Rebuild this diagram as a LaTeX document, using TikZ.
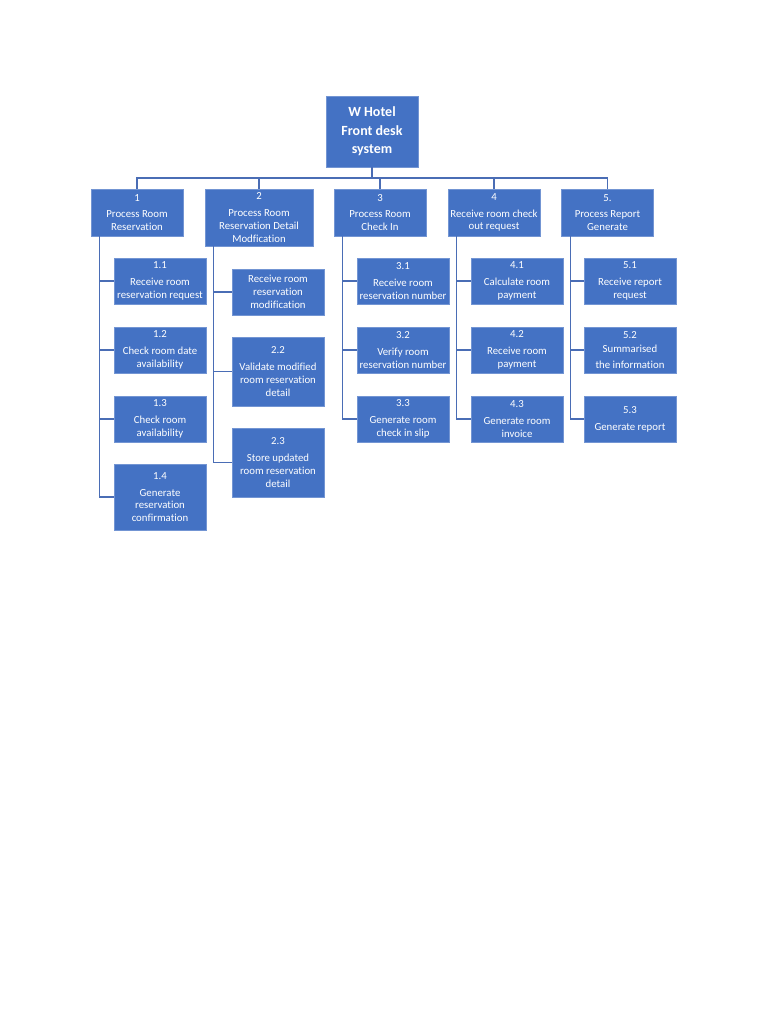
\documentclass[tikz,border=0pt]{standalone}
\usepackage{fontspec}
\setmainfont{Carlito}[Ligatures=NoCommon]
\usetikzlibrary{arrows.meta}
\definecolor{boxblue}{HTML}{4472C4}
\definecolor{linkblue}{HTML}{4A6DB5}
\tikzset{
  task/.style={fill=boxblue, draw=boxblue!75!white, line width=0.4pt, text=white, align=center,
    minimum width=69pt, minimum height=34.5pt, inner sep=1pt, font=\fontsize{8.1}{9.6}\selectfont},
  link/.style={draw=linkblue, line width=0.8pt},
}

\begin{document}
\begin{tikzpicture}[x=0.75pt, y=-0.75pt]

  \useasboundingbox[fill=white] (0,0) rectangle (768,1024);

  \newcommand\In{6.8pt};

  % root
  \node[task, minimum height=53.25pt, font=\fontsize{10.5}{13.5}\selectfont\bfseries] (root) at (372,131.5) {W Hotel\\[1pt]Front desk\\system};

  % level 1
  \node[task, minimum height=35.25pt] (n1) at (137,212.5) {1\\[3pt]Process Room\\Reservation};
  \node[task, minimum width=81pt, minimum height=42.75pt] (n2) at (259,217.5) {2\\[3pt]Process Room\\Reservation Detail\\Modfication};
  \node[task, minimum height=35.25pt] (n3) at (380,212.5) {3\\[3pt]Process Room\\Check In};
  \node[task, minimum height=35.25pt] (n4) at (494,212.5) {4\\[3pt]Receive room check\\out request};
  \node[task, minimum height=35.25pt] (n5) at (607.5,212.5) {5.\\[3pt]Process Report\\Generate};

  % column 1
  \node[task] (n11) at (160,281) {1.1\\[3pt]Receive room\\reservation request};
  \node[task] (n12) at (160,350) {1.2\\[3pt]Check room date\\availability};
  \node[task] (n13) at (160,419) {1.3\\[3pt]Check room\\availability};
  \node[task, minimum height=49.5pt] (n14) at (160,497) {1.4\\[3pt]Generate\\reservation\\confirmation};

  % column 2
  \node[task] (n21) at (278,292) {Receive room\\reservation\\modification};
  \node[task, minimum height=51.75pt] (n22) at (278,371.5) {2.2\\[3pt]Validate modified\\room reservation\\detail};
  \node[task, minimum height=51.75pt] (n23) at (278,462.5) {2.3\\[3pt]Store updated\\room reservation\\detail};

  % column 3
  \node[task] (n31) at (403,281) {3.1\\[3pt]Receive room\\reservation number};
  \node[task] (n32) at (403,350) {3.2\\[3pt]Verify room\\reservation number};
  \node[task] (n33) at (403,419) {3.3\\[3pt]Generate room\\check in slip};

  % column 4
  \node[task] (n41) at (517,281) {4.1\\[3pt]Calculate room\\payment};
  \node[task] (n42) at (517,350) {4.2\\[3pt]Receive room\\payment};
  \node[task] (n43) at (517,419) {4.3\\[3pt]Generate room\\invoice};

  % column 5
  \node[task] (n51) at (630,281) {5.1\\[3pt]Receive report\\request};
  \node[task] (n52) at (630,350) {5.2\\[1pt]Summarised\\[3pt]the information};
  \node[task] (n53) at (630,419) {5.3\\[3pt]Generate report};

  % bus
  \coordinate (bus) at (372,178);
  \draw[link] (root.south) -- (bus);
  \foreach \p in {n1,n2,n3,n4,n5}
    \draw[link] (bus) -| (\p.north);

  % trunks
  \foreach \p/\c in {n1/n11,n1/n12,n1/n13,n1/n14,n2/n21,n2/n22,n2/n23,
                     n3/n31,n3/n32,n3/n33,n4/n41,n4/n42,n4/n43,n5/n51,n5/n52,n5/n53}
    \draw[link] ([xshift=\In]\p.south west) |- (\c.west);

\end{tikzpicture}
\end{document}
